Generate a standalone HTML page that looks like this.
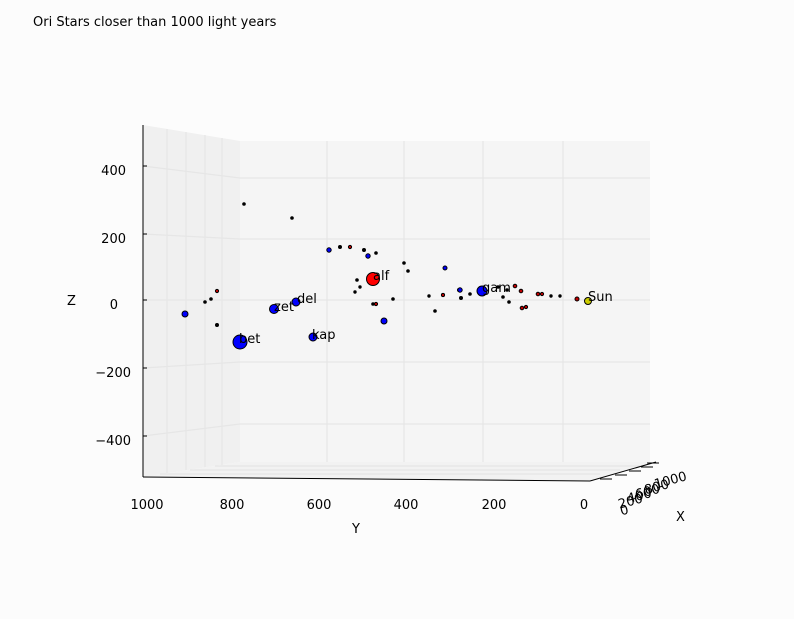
<!DOCTYPE html>
<html><head><style>body{margin:0;background:#fff}svg{display:block}text{font-family:"DejaVu Sans","Liberation Sans",sans-serif;font-size:13px;fill:#000}</style></head>
<body>
<svg width="794" height="619" viewBox="0 0 794 619" xmlns="http://www.w3.org/2000/svg">
<rect width="794" height="619" fill="#fcfcfc"/>
<text x="33" y="26">Ori Stars closer than 1000 light years</text>
<!-- left pane -->
<polygon points="143,125 240,141 240,462 143,477" fill="#f0f0f0"/>
<!-- back pane -->
<polygon points="240,141 650,141 650,462 240,462" fill="#f5f5f5"/>
<!-- floor -->
<polygon points="143,477 240,462 650,462 656,462 590,481" fill="#f2f2f2"/>
<g stroke="#e6e6e6" stroke-width="1.2" fill="none">
<line x1="327" y1="141" x2="327" y2="462"/><line x1="404" y1="141" x2="404" y2="462"/>
<line x1="483" y1="141" x2="483" y2="462"/><line x1="563" y1="141" x2="563" y2="462"/>
<line x1="240" y1="178" x2="650" y2="178"/><line x1="240" y1="239" x2="650" y2="239"/>
<line x1="240" y1="300" x2="650" y2="300"/><line x1="240" y1="362" x2="650" y2="362"/>
<line x1="240" y1="424" x2="650" y2="424"/>
<line x1="167" y1="129" x2="167" y2="473"/><line x1="186" y1="132" x2="186" y2="470"/>
<line x1="205" y1="135" x2="205" y2="467"/><line x1="222" y1="138" x2="222" y2="465"/>
<line x1="143" y1="166" x2="240" y2="178"/><line x1="143" y1="234" x2="240" y2="239"/>
<line x1="143" y1="300" x2="240" y2="300"/><line x1="143" y1="368" x2="240" y2="362"/>
<line x1="143" y1="436" x2="240" y2="424"/>
<line x1="160" y1="474" x2="600" y2="474"/><line x1="190" y1="470" x2="620" y2="470"/><line x1="215" y1="466" x2="640" y2="466"/>
</g>
<g stroke="#000" stroke-width="1">
<line x1="143" y1="125" x2="143" y2="477"/>
<line x1="143" y1="477" x2="590" y2="481"/>
<line x1="590" y1="481" x2="656" y2="462"/>
<line x1="143" y1="166" x2="147" y2="166"/><line x1="143" y1="234" x2="147" y2="234"/><line x1="143" y1="300" x2="147" y2="300"/><line x1="143" y1="368" x2="147" y2="368"/><line x1="143" y1="436" x2="147" y2="436"/>
<line x1="600" y1="479" x2="612" y2="479"/><line x1="615" y1="475" x2="627" y2="475"/><line x1="629" y1="471" x2="641" y2="471"/><line x1="641" y1="467" x2="653" y2="467"/><line x1="647" y1="463" x2="659" y2="463"/>
</g>
<g text-anchor="end"><text x="126" y="175">400</text><text x="126" y="243">200</text><text x="118" y="309">0</text><text x="131" y="377">−200</text><text x="131" y="445">−400</text></g>
<text x="67" y="305">Z</text>
<g text-anchor="middle"><text x="147" y="509">1000</text><text x="232" y="509">800</text><text x="319" y="509">600</text><text x="406" y="509">400</text><text x="494" y="509">200</text><text x="584" y="509">0</text></g>
<text x="352" y="533">Y</text>
<g transform="rotate(-15 640 500)"><text x="618" y="510">0</text><text x="618" y="503">200</text><text x="628" y="500">400</text><text x="637" y="498">600</text><text x="647" y="496">800</text><text x="658" y="493">1000</text></g>
<text x="676" y="521">X</text>
<g stroke="#000" stroke-width="1">
<g fill="#000">
<circle cx="244" cy="204" r="1.3"/><circle cx="292" cy="218" r="1.3"/><circle cx="340" cy="247" r="1.5"/><circle cx="364" cy="250" r="1.5"/><circle cx="376" cy="253" r="1.3"/>
<circle cx="404" cy="263" r="1.3"/><circle cx="408" cy="271" r="1.3"/><circle cx="357" cy="280" r="1.3"/><circle cx="360" cy="287" r="1.2"/><circle cx="355" cy="292" r="1.2"/>
<circle cx="373" cy="304" r="1.3"/><circle cx="393" cy="299" r="1.3"/><circle cx="429" cy="296" r="1.2"/><circle cx="435" cy="311" r="1.3"/><circle cx="443" cy="295" r="1.5"/>
<circle cx="459" cy="290" r="1.5"/><circle cx="461" cy="298" r="1.5"/><circle cx="470" cy="294" r="1.3"/><circle cx="503" cy="297" r="1.3"/><circle cx="509" cy="302" r="1.3"/>
<circle cx="551" cy="296" r="1.2"/><circle cx="560" cy="296" r="1.2"/><circle cx="211" cy="299" r="1.3"/><circle cx="205" cy="302" r="1.3"/><circle cx="217" cy="325" r="1.5"/>
<circle cx="498" cy="287" r="1.3"/><circle cx="507" cy="290" r="1.2"/>
</g>
<g fill="#c00000">
<circle cx="217" cy="291" r="1.6"/><circle cx="350" cy="247" r="1.6"/><circle cx="376" cy="304" r="1.6"/><circle cx="515" cy="286" r="1.8"/><circle cx="521" cy="291" r="1.8"/>
<circle cx="538" cy="294" r="1.8"/><circle cx="542" cy="294" r="1.6"/><circle cx="522" cy="308" r="1.8"/><circle cx="526" cy="307" r="1.6"/><circle cx="577" cy="299" r="2"/><circle cx="443" cy="295" r="1.6"/>
</g>
<g fill="#0000ff">
<circle cx="185" cy="314" r="3"/><circle cx="384" cy="321" r="3"/><circle cx="329" cy="250" r="2.2"/><circle cx="368" cy="256" r="2.2"/><circle cx="445" cy="268" r="2"/><circle cx="460" cy="290" r="2.2"/>
<circle cx="240" cy="342" r="7"/><circle cx="274" cy="309" r="4.5"/><circle cx="296" cy="302" r="4"/><circle cx="313" cy="337" r="4"/><circle cx="482" cy="291" r="5"/>
</g>
<circle cx="373" cy="279" r="6.5" fill="#ff0000"/>
<circle cx="588" cy="301" r="3.5" fill="#cccc00"/>
</g>
<text x="239" y="343">bet</text><text x="274" y="311">zet</text><text x="297" y="303">del</text><text x="312" y="339">kap</text><text x="373" y="280">alf</text><text x="482" y="292">gam</text><text x="588" y="301">Sun</text>
</svg>
</body></html>
